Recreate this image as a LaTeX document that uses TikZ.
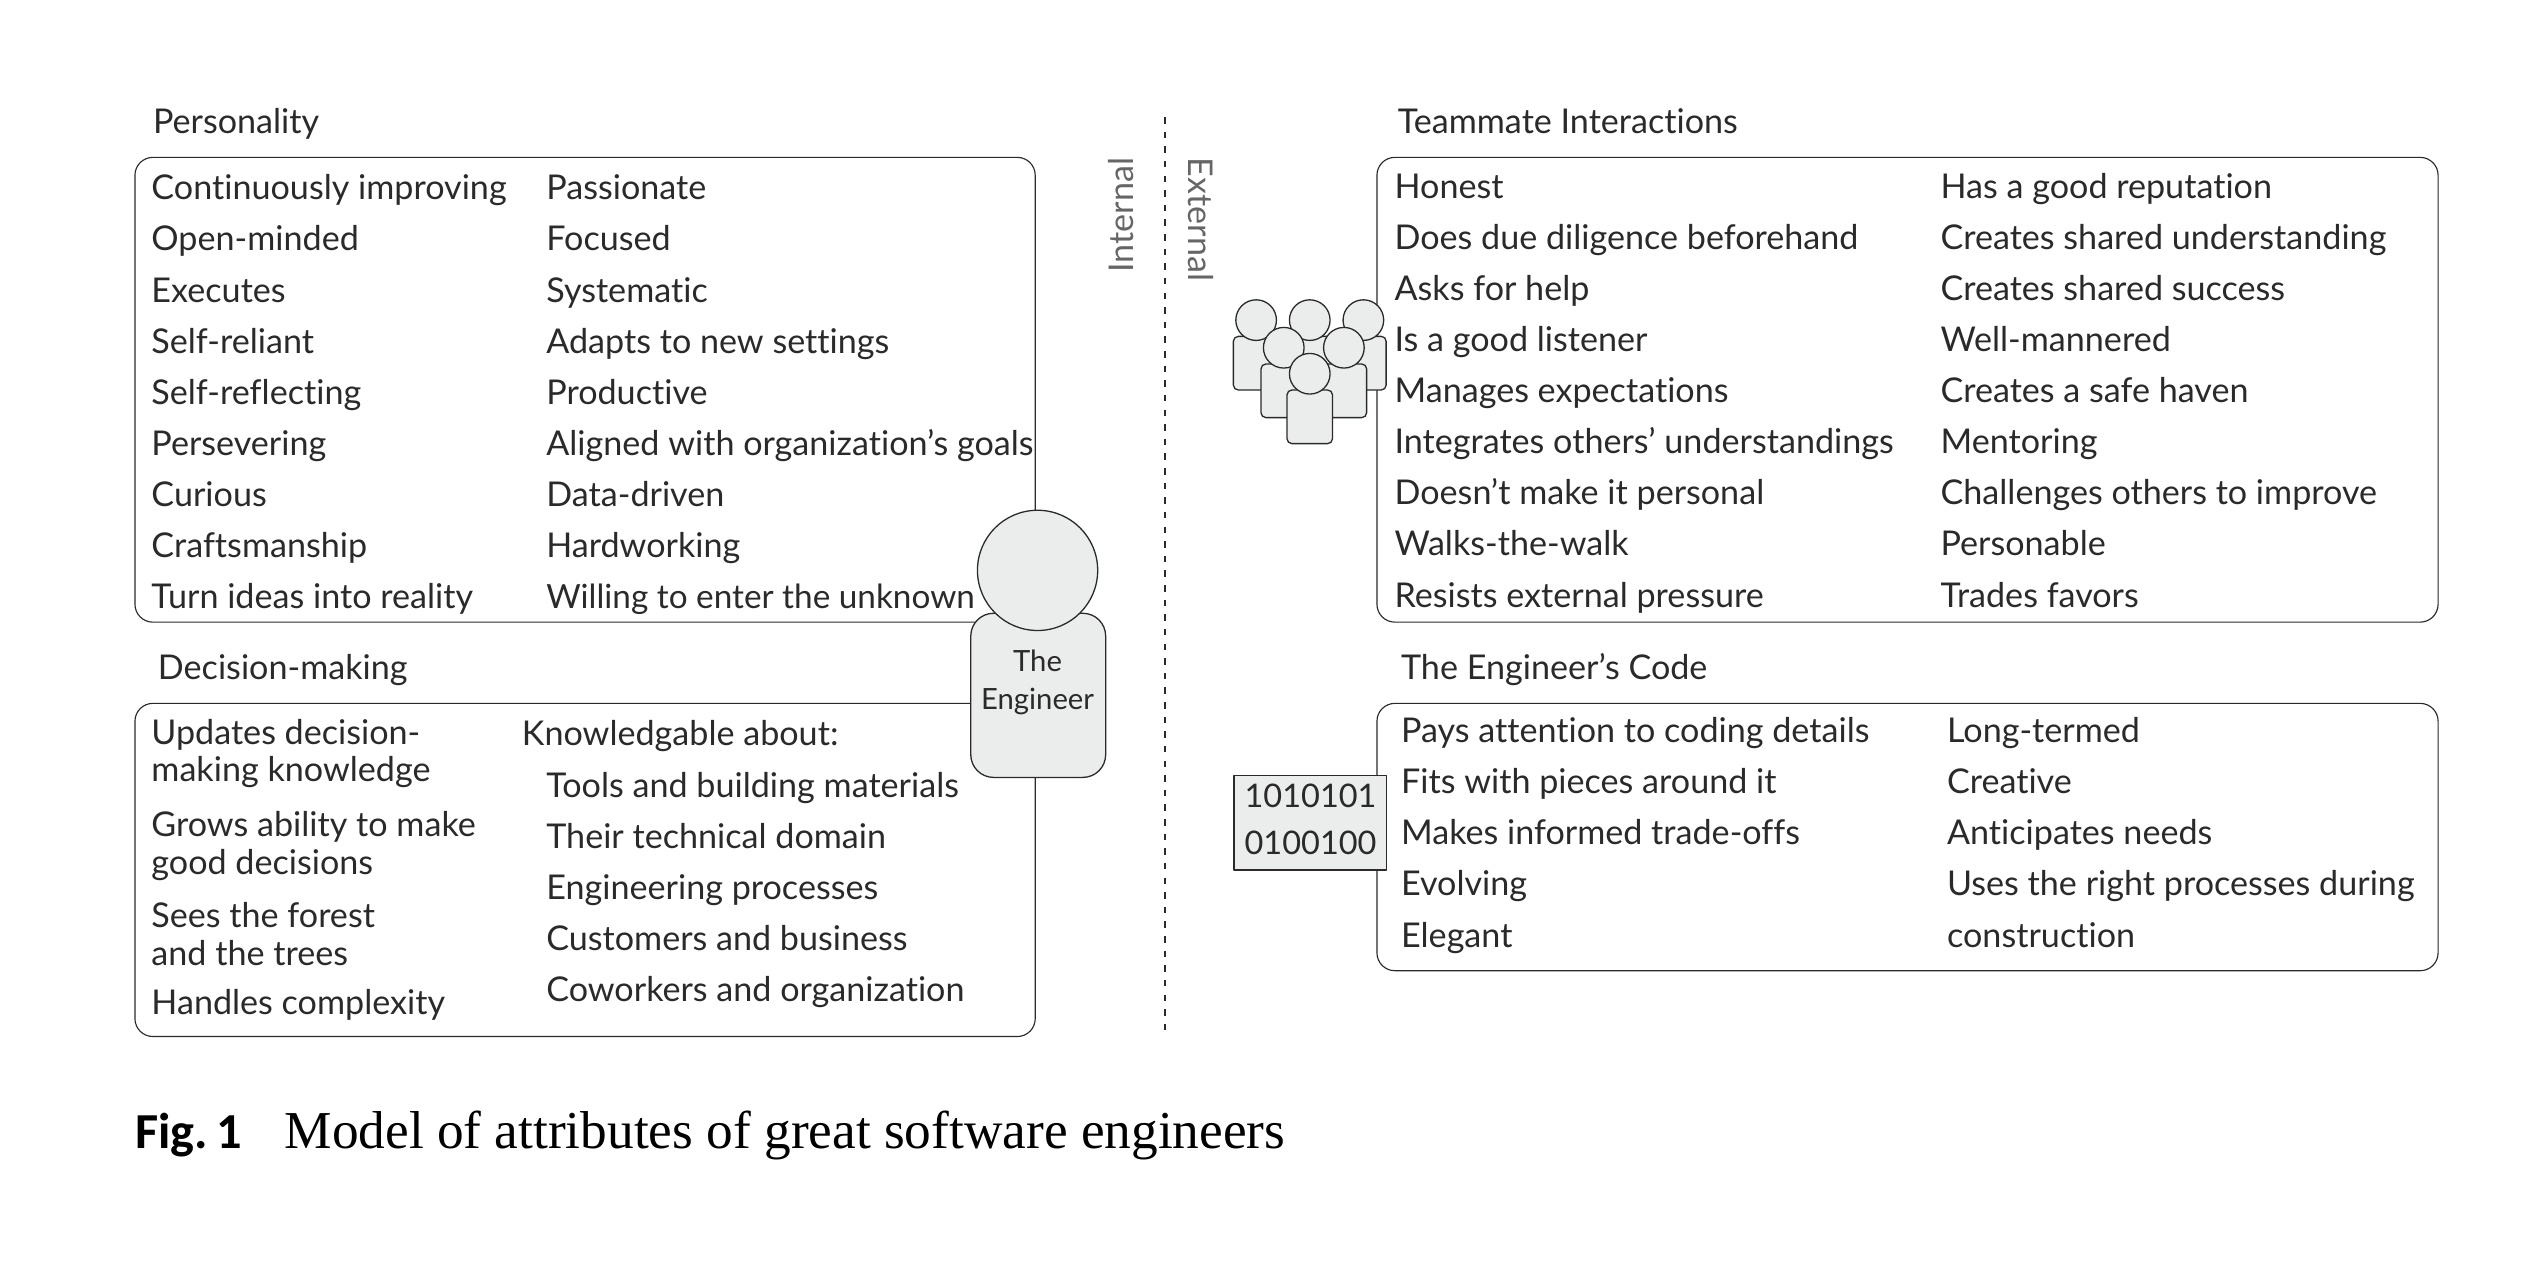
\documentclass[tikz,border=0pt]{standalone}
\usepackage{fontspec}
\setmainfont{Lato}[Ligatures=NoCommon]
\newfontfamily\capserif{Liberation Serif}
\newfontfamily\capsans{Carlito}
\definecolor{fillgray}{HTML}{EBEDEC}
\definecolor{inkgray}{HTML}{2A2A2A}
\definecolor{sidegray}{HTML}{666666}
\tikzset{
	txt/.style={anchor=base west, inner sep=0pt, text=inkgray, font=\fontsize{21}{24}\selectfont},
	panel/.style={draw=inkgray, line width=0.7pt, rounded corners=11pt, anchor=north west, inner sep=0pt},
	figure/.style={draw=inkgray, fill=fillgray, line width=0.8pt}
}
\begin{document}
\begin{tikzpicture}[x=1pt, y=-1pt, line join=round]
	\def\pitch{31.45}
	\useasboundingbox (0,0) rectangle (1568,784);
	% panels
	\node[panel, minimum width=554pt, minimum height=286pt] (personality) at (82.7,96.5) {};
	\node[panel, minimum width=554pt, minimum height=205pt] (decision) at (82.7,432.5) {};
	\node[panel, minimum width=653pt, minimum height=286pt] (teammate) at (847,96.5) {};
	\node[panel, minimum width=653pt, minimum height=164.5pt] (code) at (847,432.5) {};
	\node[txt] (personalityhead) at (94,82) {Personality};
	\node[txt] (decisionhead) at (97,418) {Decision-making};
	\node[txt] (teammatehead) at (860,82) {Teammate Interactions};
	\node[txt] (codehead) at (862,418) {The Engineer’s Code};
	% personality
	\foreach \t [count=\i] in {Continuously improving, Open-minded, Executes, Self-reliant, Self-reflecting, Persevering, Curious, Craftsmanship, Turn ideas into reality}
		\node[txt] (persa\i) at (93,{123+\pitch*(\i-1)}) {\t};
	\foreach \t [count=\i] in {Passionate, Focused, Systematic, Adapts to new settings, Productive, Aligned with organization’s goals, Data-driven, Hardworking, {\fontsize{20.5}{24}\selectfont Willing to enter the unknown}}
		\node[txt] (persb\i) at (336,{123+\pitch*(\i-1)}) {\t};
	% decision-making
	\node[txt] (deca1) at (93,458) {Updates decision-};
	\node[txt] (deca2) at (93,481) {making knowledge};
	\node[txt] (deca3) at (93,515) {Grows ability to make};
	\node[txt] (deca4) at (93,538) {good decisions};
	\node[txt] (deca5) at (93,571) {Sees the forest};
	\node[txt] (deca6) at (93,594) {and the trees};
	\node[txt] (deca7) at (93,624) {Handles complexity};
	\node[txt] (knowhead) at (321,459) {Knowledgable about:};
	\foreach \t [count=\i] in {Tools and building materials, Their technical domain, Engineering processes, Customers and business, Coworkers and organization}
		\node[txt] (decb\i) at (336,{490.5+\pitch*(\i-1)}) {\t};
	% teammate
	\foreach \t [count=\i] in {Honest, Does due diligence beforehand, Asks for help, Is a good listener, Manages expectations, Integrates others’ understandings, Doesn’t make it personal, Walks-the-walk, Resists external pressure}
		\node[txt] (teama\i) at (858,{122+\pitch*(\i-1)}) {\t};
	\foreach \t [count=\i] in {Has a good reputation, Creates shared understanding, Creates shared success, Well-mannered, Creates a safe haven, Mentoring, Challenges others to improve, Personable, Trades favors}
		\node[txt] (teamb\i) at (1194,{122+\pitch*(\i-1)}) {\t};
	% code
	\foreach \t [count=\i] in {Pays attention to coding details, Fits with pieces around it, Makes informed trade-offs, Evolving, Elegant}
		\node[txt] (codea\i) at (862,{457+\pitch*(\i-1)}) {\t};
	\foreach \t [count=\i] in {Long-termed, Creative, Anticipates needs, Uses the right processes during, construction}
		\node[txt] (codeb\i) at (1198,{457+\pitch*(\i-1)}) {\t};
	% divider
	\coordinate (divtop) at (717,72);
	\coordinate (divbot) at (717,637);
	\draw[inkgray, line width=1.1pt, dash pattern=on 4pt off 5pt] (divtop) -- (divbot);
	\node[txt, text=sidegray, anchor=north east, rotate=90] (internal) at (682,97) {Internal};
	\node[txt, text=sidegray, anchor=north west, rotate=-90] (external) at (747,97) {External};
	% the engineer
	\node[figure, rounded corners=14pt, minimum width=83pt, minimum height=101pt, anchor=north west, inner sep=0pt] (body) at (597,377) {};
	\node[figure, circle, minimum size=74pt, inner sep=0pt] (head) at (638.5,351) {};
	\node[txt, anchor=base, font=\fontsize{18}{20}\selectfont] (the) at (638.5,413) {The};
	\node[txt, anchor=base, font=\fontsize{18}{20}\selectfont] (engineer) at (638.5,436.5) {Engineer};
	% the team
	\foreach \n/\cx/\cy in {a/773/197, b/806/197, c/839/197, d/790/214, e/827/214, f/806/230} {
		\node[figure, rounded corners=3pt, minimum width=28pt, minimum height=33pt, inner sep=0pt] (body\n) at (\cx,{\cy+26.5}) {};
		\node[figure, circle, minimum size=25pt, inner sep=0pt] (head\n) at (\cx,\cy) {};
	}
	% the code
	\node[figure, rectangle, anchor=north west, minimum width=94pt, minimum height=58pt, inner sep=0pt] (binary) at (759,477) {};
	\node[txt, anchor=base, font=\fontsize{20}{24}\selectfont] (binone) at (806.5,497) {1010101};
	\node[txt, anchor=base, font=\fontsize{20}{24}\selectfont] (bintwo) at (806.5,526) {0100100};
	% caption
	\node[txt, text=black, font=\capsans\bfseries\fontsize{31}{34}\selectfont] (figlabel) at (83,707) {Fig.\,1};
	\node[txt, text=black, font=\capserif\fontsize{32.8}{36}\selectfont] (figcaption) at (175,707) {Model of attributes of great software engineers};
\end{tikzpicture}
\end{document}
